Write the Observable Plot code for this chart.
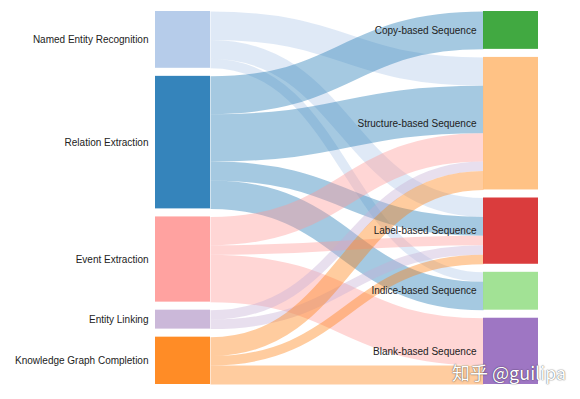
<!DOCTYPE html>
<html>
<head>
<meta charset="utf-8">
<script src="https://cdn.jsdelivr.net/npm/d3@7"></script>
<script src="https://cdn.jsdelivr.net/npm/@observablehq/plot@0.6"></script>
<style>
  html, body { margin: 0; padding: 0; background: #fff; }
  #wrap { position: relative; width: 580px; height: 399px; }
  #wm { position: absolute; left: 452px; top: 359px; font: 18px "Noto Sans CJK SC", "Noto Sans", sans-serif;
        color: #fff; text-shadow: 0 0 1.5px rgba(0,0,0,0.55), 0 0 1px rgba(0,0,0,0.4); white-space: nowrap; }
</style>
</head>
<body>
<div id="wrap"><div id="wm">知乎 @guilipa</div></div>
<script>
// ---- data ----
const sources = ["Named Entity Recognition", "Relation Extraction", "Event Extraction", "Entity Linking", "Knowledge Graph Completion"];
const targets = ["Copy-based Sequence", "Structure-based Sequence", "Label-based Sequence", "Indice-based Sequence", "Blank-based Sequence"];
const sourceColors = ["#aec7e8", "#1f77b4", "#ff9896", "#c5b0d5", "#ff7f0e"];
const targetColors = ["#2ca02c", "#ffbb78", "#d62728", "#98df8a", "#9467bd"];
const linkSource = [
  "Named Entity Recognition", "Named Entity Recognition", "Named Entity Recognition",
  "Relation Extraction", "Relation Extraction", "Relation Extraction", "Relation Extraction",
  "Event Extraction", "Event Extraction", "Event Extraction",
  "Entity Linking", "Entity Linking",
  "Knowledge Graph Completion", "Knowledge Graph Completion", "Knowledge Graph Completion"
];
const linkTarget = [
  "Structure-based Sequence", "Label-based Sequence", "Indice-based Sequence",
  "Copy-based Sequence", "Structure-based Sequence", "Label-based Sequence", "Indice-based Sequence",
  "Structure-based Sequence", "Label-based Sequence", "Blank-based Sequence",
  "Structure-based Sequence", "Label-based Sequence",
  "Structure-based Sequence", "Label-based Sequence", "Blank-based Sequence"
];
const linkValue = [3, 2, 1, 4, 5, 2, 3, 3, 1, 5, 1, 1, 2, 1, 2];

// ---- layout (sankey-like, computed from the data) ----
const pad = 0.85;      // node padding, in value units
const nodeW = 0.1436;  // node width, in x units
const links = linkValue.map((v, i) => ({source: linkSource[i], target: linkTarget[i], value: v}));
function column(names, key, x0) {
  let y = 0;
  return names.map(name => {
    const v = d3.sum(links.filter(l => l[key] === name), l => l.value);
    const n = {name, x0, x1: x0 + nodeW, y0: y, y1: y + v, value: v};
    y += v + pad;
    return n;
  });
}
const leftNodes = column(sources, "source", 0);
const rightNodes = column(targets, "target", 1 - nodeW);
const nodes = [...leftNodes, ...rightNodes];
const H = Math.max(d3.max(leftNodes, d => d.y1), d3.max(rightNodes, d => d.y1));
// link positions: at the source, ordered by target; at the target, ordered by source
for (const n of leftNodes) {
  let y = n.y0;
  for (const l of links.filter(l => l.source === n.name).sort((a, b) => targets.indexOf(a.target) - targets.indexOf(b.target))) {
    l.sy = y + l.value / 2; y += l.value;
  }
}
for (const n of rightNodes) {
  let y = n.y0;
  for (const l of links.filter(l => l.target === n.name).sort((a, b) => sources.indexOf(a.source) - sources.indexOf(b.source))) {
    l.ty = y + l.value / 2; y += l.value;
  }
}

const yTop = 11, yBottom = 384;
const k = (yBottom - yTop) / H; // pixels per value unit
const font = '"Liberation Sans", Arial, Helvetica, sans-serif';

const chart = Plot.plot({
  width: 580,
  height: 399,
  marginLeft: 0, marginRight: 0, marginTop: 0, marginBottom: 0,
  style: {fontFamily: font, fontSize: "10px", background: "transparent"},
  x: {domain: [0, 1], range: [155, 538], axis: null},
  y: {domain: [0, H], range: [yTop, yBottom], axis: null},
  color: {domain: [...sources, ...targets], range: [...sourceColors, ...targetColors]},
  marks: [
    Plot.link(links, {
      x1: nodeW, x2: 1 - nodeW,
      y1: "sy", y2: "ty",
      curve: "bump-x",
      stroke: "source",
      strokeOpacity: 0.4,
      strokeWidth: d => d.value * k
    }),
    Plot.rect(nodes, {x1: "x0", x2: "x1", y1: "y0", y2: "y1", fill: "name", fillOpacity: 0.9}),
    Plot.text(leftNodes, {x: "x0", y: d => (d.y0 + d.y1) / 2, text: "name", textAnchor: "end", dx: -7, fill: "#222"}),
    Plot.text(rightNodes, {x: "x0", y: d => (d.y0 + d.y1) / 2, text: "name", textAnchor: "end", dx: -7, fill: "#222"})
  ]
});
chart.style.position = "absolute";
chart.style.left = "0";
chart.style.top = "0";
document.getElementById("wrap").prepend(chart);
</script>
</body>
</html>
